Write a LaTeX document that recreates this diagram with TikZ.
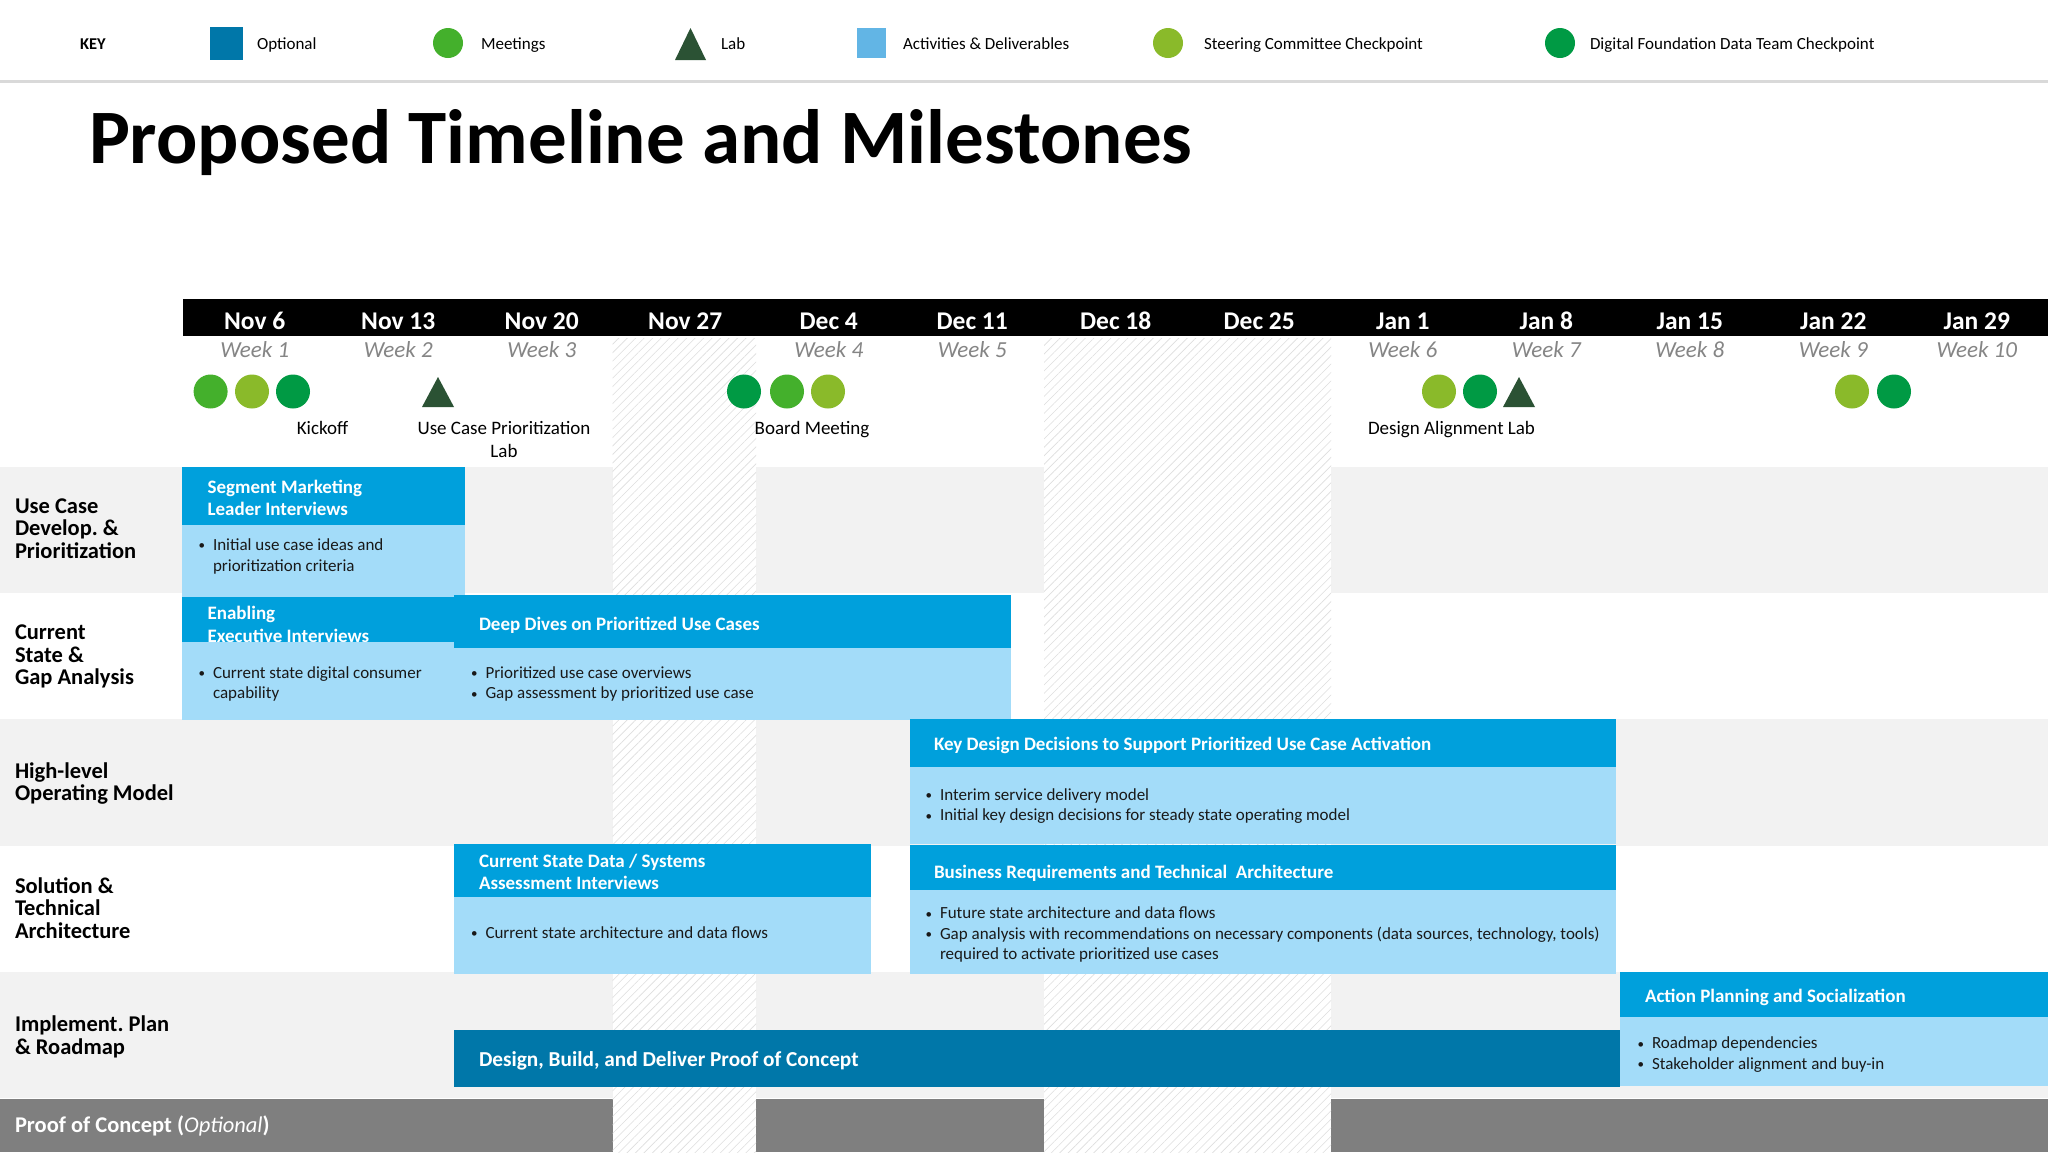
\documentclass[tikz,border=0pt]{standalone}
\usepackage{fontspec}
\setmainfont{Carlito}
\usetikzlibrary{patterns.meta}
\frenchspacing
\definecolor{hdrblue}{HTML}{00A0DC}
\definecolor{bodyblue}{HTML}{A3DCF9}
\definecolor{optblue}{HTML}{0077A9}
\definecolor{actblue}{HTML}{62B5E5}
\definecolor{meetgreen}{HTML}{44B02C}
\definecolor{steergreen}{HTML}{8ABA2A}
\definecolor{dfgreen}{HTML}{009A44}
\definecolor{labgreen}{HTML}{2B5234}
\definecolor{rowgray}{HTML}{F2F2F2}
\definecolor{pocgray}{HTML}{7F7F7F}
\definecolor{hatchgray}{HTML}{DEDEDE}
\definecolor{weekgray}{HTML}{858585}
\definecolor{keyline}{HTML}{D9D9D9}
\newcommand\bdot{\makebox[0pt][r]{\raisebox{0.5pt}{\fontsize{13}{13}\selectfont\textbullet}\hspace{8pt}}}
\newcommand\bitem[4]{\node[btxt] (#1) at (#2,#3) {\bdot #4};}
\begin{document}
\begin{tikzpicture}[x=1pt,y=-1pt,
  base/.style={inner sep=0pt, outer sep=0pt, text depth=0pt},
  ktxt/.style={base, anchor=west, font=\fontsize{17}{20}\selectfont, text height=10.9pt},
  kbold/.style={base, anchor=west, font=\bfseries\fontsize{16.5}{19}\selectfont, text height=10.6pt},
  date/.style={base, anchor=center, text=white, font=\bfseries\fontsize{25.5}{30}\selectfont, text height=16.4pt},
  week/.style={base, anchor=center, text=weekgray, font=\itshape\fontsize{23}{27}\selectfont, text height=14.8pt},
  mlab/.style={base, anchor=center, font=\fontsize{19}{23}\selectfont, text height=12.2pt},
  rlab/.style={base, anchor=west, font=\bfseries\fontsize{22.5}{26}\selectfont, text height=14.5pt},
  btitle/.style={base, anchor=west, text=white, font=\bfseries\fontsize{19}{23}\selectfont, text height=12.2pt},
  btxt/.style={base, anchor=west, text=black!90, font=\fontsize{17}{20}\selectfont, text height=10.9pt},
  hatch/.style={pattern={Lines[angle=45,distance=6pt,line width=0.6pt]}, pattern color=hatchgray},
]
\useasboundingbox (0,0) rectangle (2048,1152);
\fill[white] (0,0) rectangle (2048,1152);

% ---------- key ----------
\fill[keyline] (0,80) rectangle (2048,83);
\node[kbold] (key) at (80,44) {KEY};
\fill[optblue] (210,27) rectangle (243,60);
\node[ktxt] (kopt) at (257,44) {Optional};
\fill[meetgreen] (448,43) circle (15);
\node[ktxt] (kmeet) at (481,44) {Meetings};
\fill[labgreen] (675,60) -- (706,60) -- (690.5,28) -- cycle;
\node[ktxt] (klab) at (721,44) {Lab};
\fill[actblue] (857,28) rectangle (886,58);
\node[ktxt] (kact) at (903,44) {Activities \& Deliverables};
\fill[steergreen] (1168,43) circle (15);
\node[ktxt] (ksteer) at (1204,44) {Steering Committee Checkpoint};
\fill[dfgreen] (1560,43) circle (15);
\node[ktxt] (kdf) at (1590,44) {Digital Foundation Data Team Checkpoint};

% ---------- title ----------
\node[base, anchor=base west, font=\bfseries\fontsize{77}{90}\selectfont] (title) at (89,163) {Proposed Timeline and Milestones};

% ---------- header bar ----------
\fill[black] (183,299) rectangle (2048,336);
\foreach \d [count=\i from 0] in {Nov 6,Nov 13,Nov 20,Nov 27,Dec 4,Dec 11,Dec 18,Dec 25,Jan 1,Jan 8,Jan 15,Jan 22,Jan 29}
  \node[date] (d\i) at ({254.75+143.5*\i},321.5) {\d};
\foreach \c/\w in {0/1,1/2,2/3,4/4,5/5,8/6,9/7,10/8,11/9,12/10}
  \node[week] (w\c) at ({254.75+143.5*\c},350.5) {Week \w};

% ---------- row backgrounds ----------
\fill[rowgray] (0,466.5) rectangle (2048,592.5);
\fill[rowgray] (0,719) rectangle (2048,845.5);
\fill[rowgray] (0,972) rectangle (2048,1098);
\fill[pocgray] (0,1098.5) rectangle (2048,1152);

% ---------- hatched (holiday) columns ----------
\fill[white] (612.5,338) rectangle (756,1152);
\fill[hatch] (612.5,338) rectangle (756,1152);
\fill[white] (1044,338) rectangle (1331,1152);
\fill[hatch] (1044,338) rectangle (1187.5,1152);
\fill[hatch] (1187.5,338) rectangle (1331,1152);

% ---------- milestones ----------
\fill[meetgreen] (210.6,391.5) circle (17);
\fill[steergreen] (252,391.5) circle (17);
\fill[dfgreen] (293,391.5) circle (17);
\fill[labgreen] (422,407) -- (454,407) -- (438,377) -- cycle;
\fill[dfgreen] (744,391.5) circle (17);
\fill[meetgreen] (787,391.5) circle (17);
\fill[steergreen] (828,391.5) circle (17);
\fill[steergreen] (1439,391.5) circle (17);
\fill[dfgreen] (1480,391.5) circle (17);
\fill[labgreen] (1503,407) -- (1535,407) -- (1519,377) -- cycle;
\fill[steergreen] (1852,391.5) circle (17);
\fill[dfgreen] (1894,391.5) circle (17);
\node[mlab] (mk) at (322.5,428.5) {Kickoff};
\node[mlab] (mu1) at (504,428.5) {Use Case Prioritization};
\node[mlab] (mu2) at (504,451) {Lab};
\node[mlab] (mb) at (812,428.5) {Board Meeting};
\node[mlab] (md) at (1451.5,428.5) {Design Alignment Lab};

% ---------- row labels ----------
\node[rlab] (r1a) at (15,506) {Use Case};
\node[rlab] (r1b) at (15,528.5) {Develop. \&};
\node[rlab] (r1c) at (15,551) {Prioritization};
\node[rlab] (r2a) at (15,632) {Current};
\node[rlab] (r2b) at (15,655) {State \&};
\node[rlab] (r2c) at (15,677) {Gap Analysis};
\node[rlab] (r3a) at (15,771) {High-level};
\node[rlab] (r3b) at (15,793) {Operating Model};
\node[rlab] (r4a) at (15,886) {Solution \&};
\node[rlab] (r4b) at (15,908) {Technical};
\node[rlab] (r4c) at (15,931) {Architecture};
\node[rlab] (r5a) at (15,1024) {Implement. Plan};
\node[rlab] (r5b) at (15,1047) {\& Roadmap};
\node[rlab, text=white] (r6) at (15,1125) {Proof of Concept ({\mdseries\itshape Optional})};

% ---------- activity boxes ----------
% Segment Marketing
\fill[hdrblue] (182,466.5) rectangle (465,525);
\fill[bodyblue] (182,525) rectangle (465,597);
\node[btitle] (sm1) at (207.6,487) {Segment Marketing};
\node[btitle] (sm2) at (207.6,509) {Leader Interviews};
\bitem{sb1}{213}{545}{Initial use case ideas and}
\node[btxt] (sb1b) at (213,566.5) {prioritization criteria};
% Enabling
\fill[hdrblue] (182,597) rectangle (465,642);
\node[btitle] (en1) at (207.6,613) {Enabling};
\node[btitle] (en2) at (207.6,636) {Executive Interviews};
\fill[bodyblue] (182,642) rectangle (465,720);
\bitem{eb1}{213}{673}{Current state digital consumer}
\node[btxt] (eb1b) at (213,693.5) {capability};
% Deep Dives
\fill[hdrblue] (454,595) rectangle (1011,648);
\fill[bodyblue] (454,648) rectangle (1011,720);
\node[btitle] (dd) at (479,624) {Deep Dives on Prioritized Use Cases};
\bitem{db1}{485.5}{673}{Prioritized use case overviews}
\bitem{db2}{485.5}{693.5}{Gap assessment by prioritized use case}
% Key Design Decisions
\fill[hdrblue] (910,719) rectangle (1616,767);
\fill[bodyblue] (910,767) rectangle (1616,844);
\node[btitle] (kd) at (934,744.5) {Key Design Decisions to Support Prioritized Use Case Activation};
\bitem{kb1}{940}{795}{Interim service delivery model}
\bitem{kb2}{940}{815.5}{Initial key design decisions for steady state operating model}
% Current State Data / Systems
\fill[hdrblue] (454,844) rectangle (870.5,897);
\fill[bodyblue] (454,897) rectangle (870.5,974);
\node[btitle] (cs1) at (479,861) {Current State Data / Systems};
\node[btitle] (cs2) at (479,883) {Assessment Interviews};
\bitem{cb1}{485.5}{933}{Current state architecture and data flows}
% Business Requirements
\fill[hdrblue] (910,845) rectangle (1616,890);
\fill[bodyblue] (910,890) rectangle (1616,974);
\node[btitle] (br) at (934,872.5) {Business Requirements and Technical\ \ Architecture};
\bitem{bb1}{940}{913.5}{Future state architecture and data flows}
\bitem{bb2}{940}{934}{Gap analysis with recommendations on necessary components (data sources, technology, tools)}
\node[btxt] (bb2b) at (940,954.5) {required to activate prioritized use cases};
% Action Planning
\fill[hdrblue] (1620,972) rectangle (2048,1017);
\fill[bodyblue] (1620,1017) rectangle (2048,1086);
\node[btitle] (ap) at (1645,996) {Action Planning and Socialization};
\bitem{ab1}{1652}{1043.5}{Roadmap dependencies}
\bitem{ab2}{1652}{1064}{Stakeholder alignment and buy-in}
% Design, Build, Deliver PoC
\fill[optblue] (454,1030) rectangle (1620,1087);
\node[btitle, font=\bfseries\fontsize{21.3}{25}\selectfont, text height=13.7pt] (poc) at (479,1060) {Design, Build, and Deliver Proof of Concept};
\end{tikzpicture}
\end{document}
